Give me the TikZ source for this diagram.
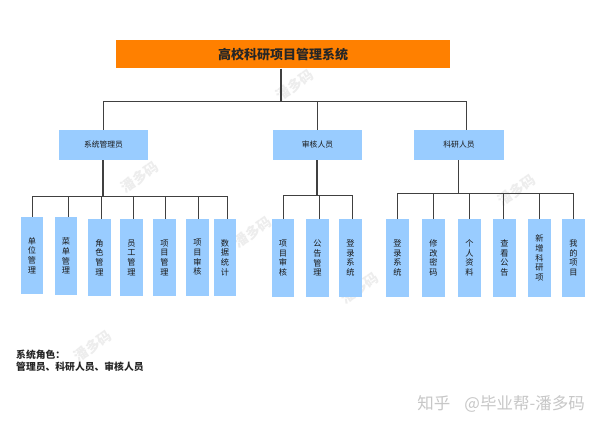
\documentclass[tikz,border=0pt]{standalone}
\usepackage{fontspec}
\setmainfont{Noto Sans CJK SC}
\begin{document}
\begin{tikzpicture}[x=1pt,y=-1pt,
  rootbox/.style={fill=rootorange,draw=none,inner sep=0pt,minimum width=334pt,minimum height=28pt,font=\bfseries\fontsize{13pt}{15pt}\selectfont,text=black!85},
  rolebox/.style={fill=boxblue,draw=none,inner sep=0pt,minimum width=89.5pt,minimum height=30pt,font=\fontsize{7.8pt}{9pt}\selectfont,text=black!90},
  leafbox/.style={fill=boxblue,draw=none,inner sep=0pt,minimum width=22.5pt,minimum height=77.5pt,align=center,font=\fontsize{8.2pt}{9.7pt}\selectfont,text=black!90},
  wire/.style={draw=wiregray,line width=1pt},
  stem/.style={draw=wiregray,line width=1.4pt},
  wmark/.style={text=black!7,font=\bfseries\fontsize{14pt}{16pt}\selectfont,rotate=35,inner sep=0pt},
  captionline/.style={anchor=west,inner sep=0pt,font=\bfseries\fontsize{9.8pt}{11pt}\selectfont,text=black!85}]
\definecolor{rootorange}{HTML}{FF8000}
\definecolor{boxblue}{HTML}{99CCFF}
\definecolor{wiregray}{HTML}{404040}
\useasboundingbox (0,0) rectangle (600,427);
\fill[white] (0,0) rectangle (600,427);
% watermarks
\node[wmark] (w1) at (295,85) {潘多码};
\node[wmark] (w2) at (140,177) {潘多码};
\node[wmark] (w3) at (517,190) {潘多码};
\node[wmark] (w4) at (253,232) {潘多码};
\node[wmark] (w5) at (360,288) {潘多码};
\node[wmark] (w6) at (93,346) {潘多码};
\node[anchor=east,inner sep=0pt,text=black!22,font=\fontsize{16.5pt}{18pt}\selectfont] (w7) at (585,404) {知乎\hspace{14pt}@毕业帮-潘多码};
% nodes
\node[rootbox] (root) at (283,54.5) {高校科研项目管理系统};
\node[rolebox] (ra) at (103.5,145) {系统管理员};
\node[rolebox] (rb) at (317.5,145) {审核人员};
\node[rolebox] (rc) at (459,145) {科研人员};
\node[leafbox] (a1) at (32,255.5) {单\\位\\管\\理};
\node[leafbox] (a2) at (66,256) {菜\\单\\管\\理};
\node[leafbox] (a3) at (99.5,257.5) {角\\色\\管\\理};
\node[leafbox] (a4) at (131.5,257.5) {员\\工\\管\\理};
\node[leafbox] (a5) at (164.5,257.5) {项\\目\\管\\理};
\node[leafbox] (a6) at (197.5,257.5) {项\\目\\审\\核};
\node[leafbox] (a7) at (225,257.5) {数\\据\\统\\计};
\node[leafbox] (b1) at (283,258) {项\\目\\审\\核};
\node[leafbox] (b2) at (317.5,258) {公\\告\\管\\理};
\node[leafbox] (b3) at (350.5,258) {登\\录\\系\\统};
\node[leafbox] (c1) at (397.5,258) {登\\录\\系\\统};
\node[leafbox] (c2) at (433.5,258) {修\\改\\密\\码};
\node[leafbox] (c3) at (469.5,258) {个\\人\\资\\料};
\node[leafbox] (c4) at (504.5,258) {查\\看\\公\\告};
\node[leafbox] (c5) at (539.5,258) {新\\增\\科\\研\\项};
\node[leafbox] (c6) at (573.5,258) {我\\的\\项\\目};
\node[captionline] (cap1) at (16,355) {系统角色：};
\node[captionline] (cap2) at (16,367) {管理员、科研人员、审核人员};
% buses
\coordinate (top) at (281,101.5);
\coordinate (topc) at (466,101.5);
\coordinate (busa) at (103,197);
\coordinate (busb) at (317,196);
\coordinate (busc) at (458.5,193.5);
% connectors
\draw[stem] (root.south -| top) -- (top);
\draw[wire] (ra.north -| busa) |- (top);
\draw[wire] (rb.north) |- (top);
\draw[wire] (topc |- rc.north) -- (topc) -- (top);
\draw[stem] (ra.south -| busa) -- (busa);
\draw[stem] (rb.south -| busb) -- (busb);
\draw[stem] (rc.south -| busc) -- (busc);
\draw[wire] (a1.north) |- (busa);
\draw[wire] ([xshift=2pt]a2.north) |- (busa);
\draw[wire] ([xshift=1.5pt]a3.north) |- (busa);
\draw[wire] ([xshift=2pt]a4.north) |- (busa);
\draw[wire] ([xshift=.5pt]a5.north) |- (busa);
\draw[wire] ([xshift=.5pt]a6.north) |- (busa);
\draw[wire] ([xshift=2pt]a7.north) |- (busa);
\draw[wire] (b1.north) |- (busb);
\draw[wire] ([xshift=1.5pt]b2.north) |- (busb);
\draw[wire] ([xshift=1.5pt]b3.north) |- (busb);
\draw[wire] (c1.north) |- (busc);
\draw[wire] (c2.north) |- (busc);
\draw[wire] (c3.north) |- (busc);
\draw[wire] ([xshift=-1pt]c4.north) |- (busc);
\draw[wire] (c5.north) |- (busc);
\draw[wire] (c6.north) |- (busc);
\end{tikzpicture}
\end{document}
